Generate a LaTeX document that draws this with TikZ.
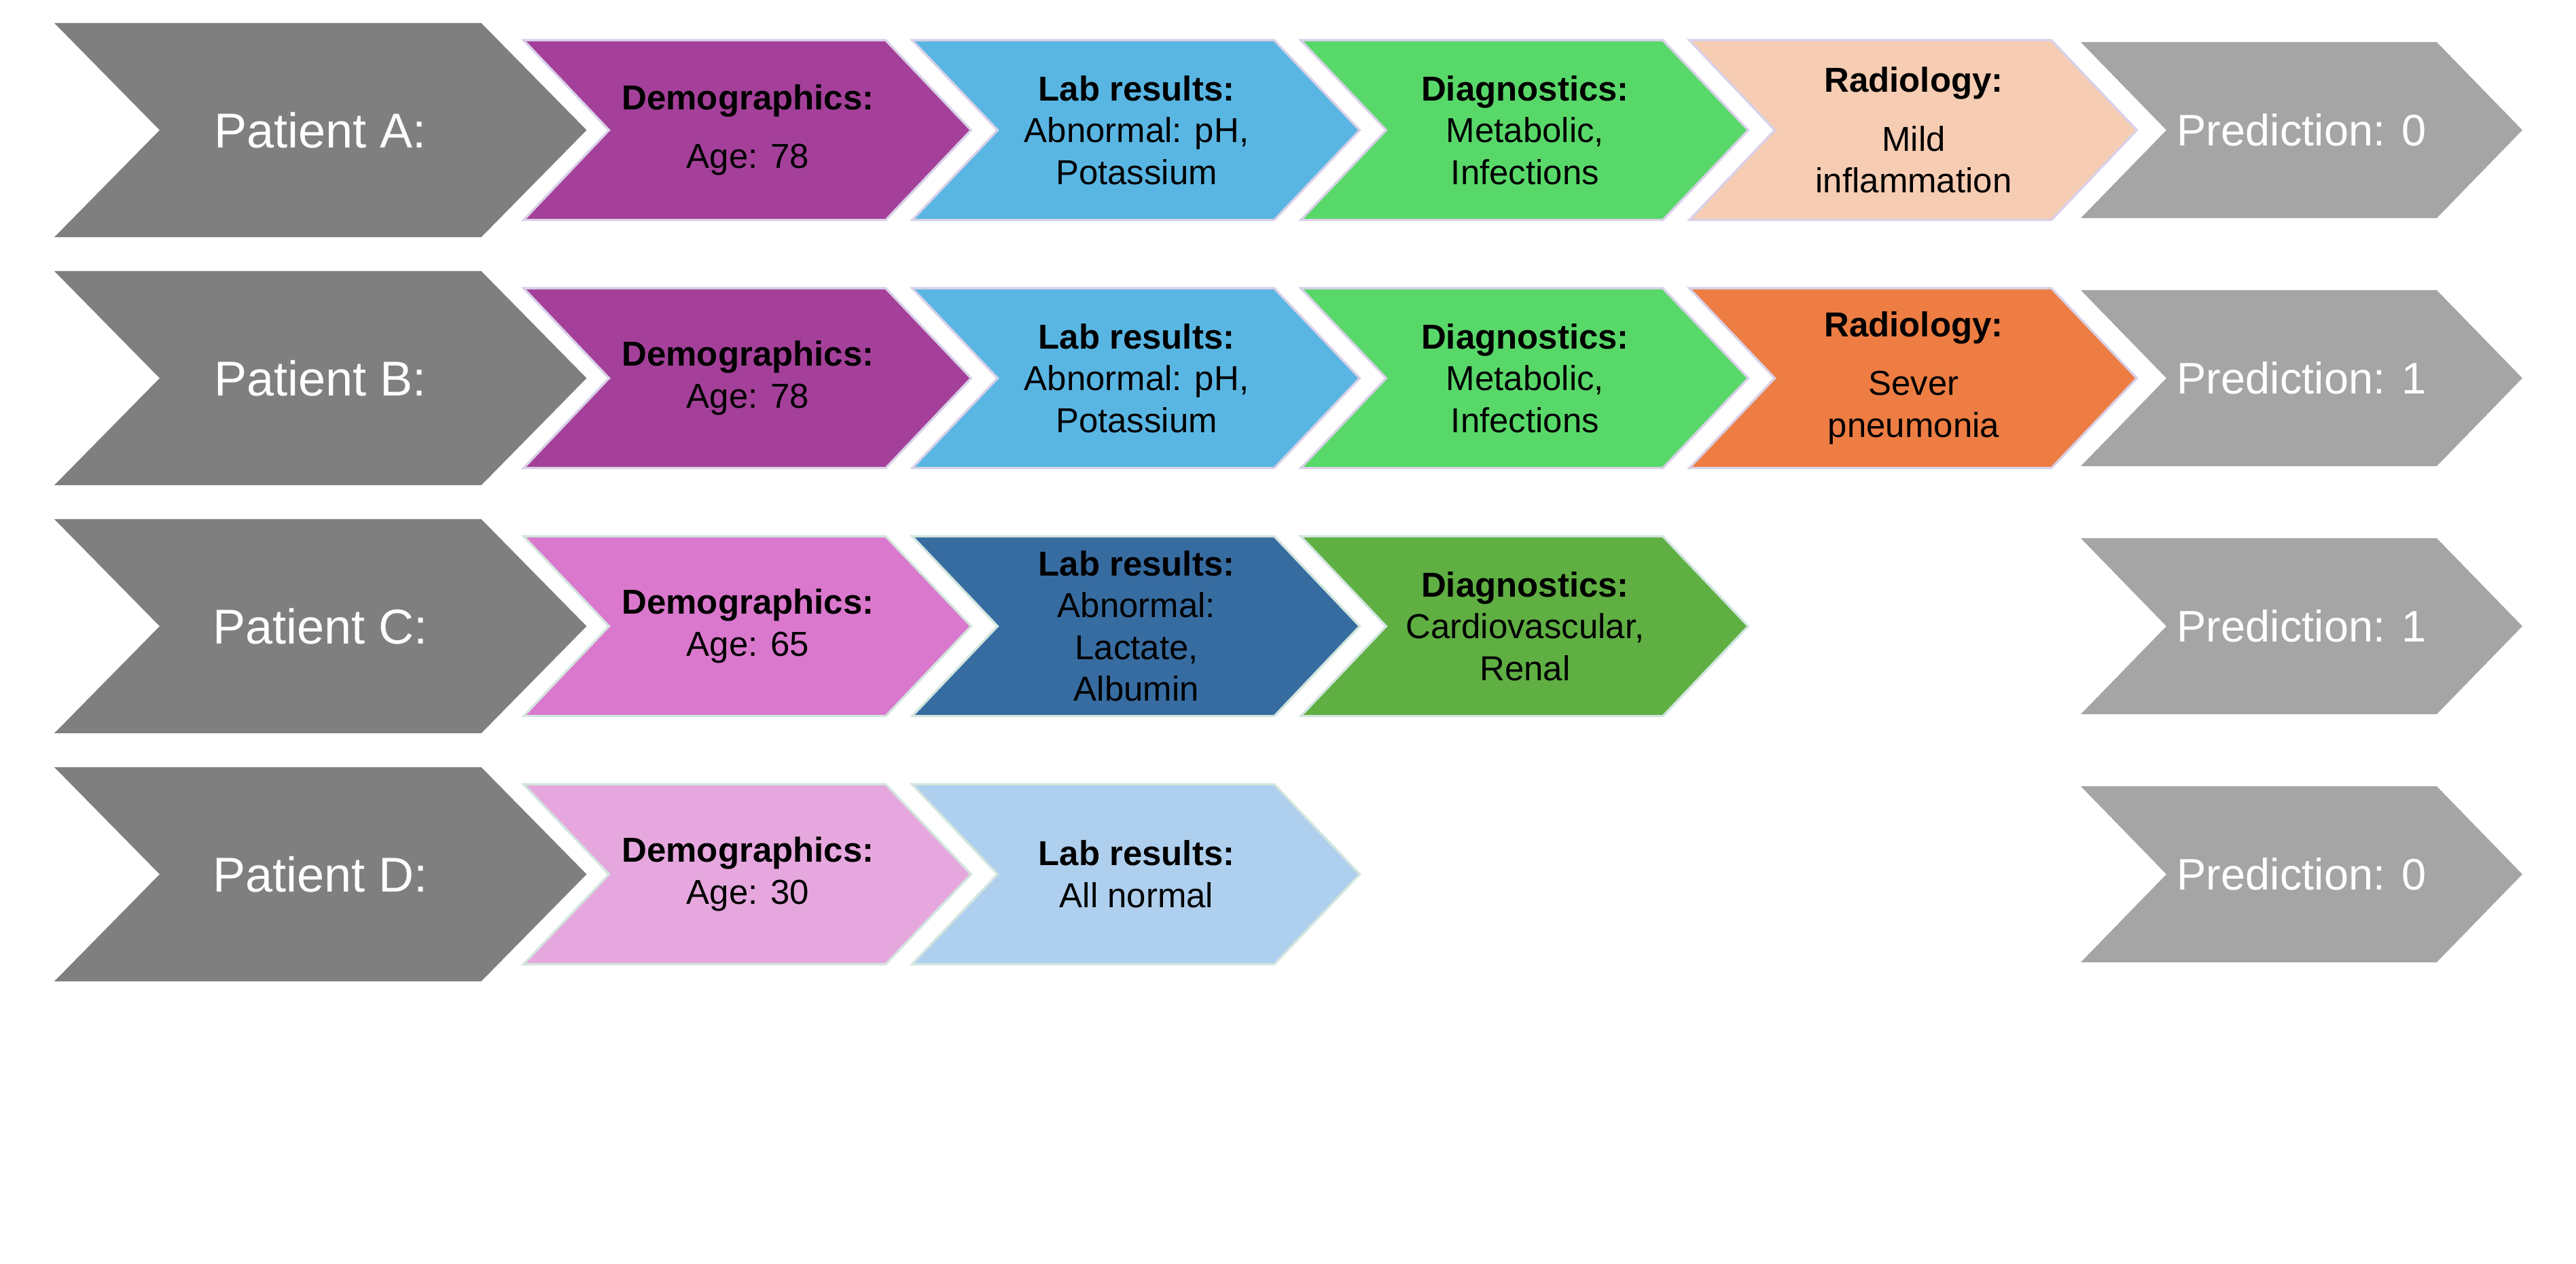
\documentclass[tikz,border=0pt]{standalone}
\usepackage{fontspec}
\setmainfont{Liberation Sans}

\definecolor{patgray}{HTML}{7F7F7F}
\definecolor{predgray}{HTML}{A5A5A5}
\definecolor{rimlav}{HTML}{D9D1E8}
\definecolor{rimmint}{HTML}{D2E5DE}
\definecolor{demoAB}{HTML}{A5409A}
\definecolor{labAB}{HTML}{59B6E3}
\definecolor{diagAB}{HTML}{59D86A}
\definecolor{radA}{HTML}{F6CCB3}
\definecolor{radB}{HTML}{ED7D43}
\definecolor{demoC}{HTML}{DA78CD}
\definecolor{labC}{HTML}{376CA1}
\definecolor{diagC}{HTML}{5FAF43}
\definecolor{demoD}{HTML}{E6A7DE}
\definecolor{labD}{HTML}{AECFEE}

% #1 style, #2 name, #3 left, #4 mid y, #5 width, #6 half height, #7 point depth
\newcommand{\chevron}[7]{%
	\path[#1] (#3,{#4+#6}) -- ({#3+#5-#7},{#4+#6}) -- ({#3+#5},#4)
		-- ({#3+#5-#7},{#4-#6}) -- (#3,{#4-#6}) -- ({#3+#7},#4) -- cycle;
	\coordinate (#2) at ({#3+#5/2},#4);
}

\begin{document}
\begin{tikzpicture}[
	patbox/.style={fill=patgray},
	predbox/.style={fill=predgray},
	stagebox/.style={fill=#1, preaction={draw=rimlav, line width=0.07cm}},
	stageboxc/.style={fill=#1, preaction={draw=rimmint, line width=0.07cm}},
	bigtxt/.style={text=white, inner sep=0pt, font=\fontsize{20.5}{24}\selectfont},
	predtxt/.style={text=white, inner sep=0pt, font=\fontsize{18.5}{22}\selectfont},
	stagetxt/.style={align=center, inner sep=0pt, font=\fontsize{14.5}{17.5}\selectfont}
]
	\useasboundingbox (0,0) rectangle (37.92,-18.60);

	% patient and prediction arrows
	\foreach \p/\v/\y in {A/0/-1.915, B/1/-5.565, C/1/-9.215, D/0/-12.865} {
		\chevron{patbox}{pat\p}{0.80}{\y}{7.835}{1.575}{1.55}
		\node[bigtxt] (patlbl\p) at (pat\p) {Patient \p:};
		\chevron{predbox}{pred\p}{30.63}{\y}{6.50}{1.295}{1.26}
		\node[predtxt] (predlbl\p) at (pred\p) {Prediction: \v};
	}

	% patient A
	\chevron{stagebox=demoAB}{demA}{7.75}{-1.915}{6.52}{1.305}{1.24}
	\node[stagetxt] (demAtxt) at (demA) {\textbf{Demographics:}\\[7pt]Age: 78};
	\chevron{stagebox=labAB}{labA}{13.47}{-1.915}{6.52}{1.305}{1.24}
	\node[stagetxt] (labAtxt) at (labA) {\textbf{Lab results:}\\Abnormal: pH,\\Potassium};
	\chevron{stagebox=diagAB}{diaA}{19.19}{-1.915}{6.52}{1.305}{1.24}
	\node[stagetxt] (diaAtxt) at (diaA) {\textbf{Diagnostics:}\\Metabolic,\\Infections};
	\chevron{stagebox=radA}{radA}{24.91}{-1.915}{6.52}{1.305}{1.24}
	\node[stagetxt] (radAtxt) at (radA) {\textbf{Radiology:}\\[7pt]Mild\\inflammation};

	% patient B
	\chevron{stagebox=demoAB}{demB}{7.75}{-5.565}{6.52}{1.305}{1.24}
	\node[stagetxt] (demBtxt) at (demB) {\textbf{Demographics:}\\Age: 78};
	\chevron{stagebox=labAB}{labB}{13.47}{-5.565}{6.52}{1.305}{1.24}
	\node[stagetxt] (labBtxt) at (labB) {\textbf{Lab results:}\\Abnormal: pH,\\Potassium};
	\chevron{stagebox=diagAB}{diaB}{19.19}{-5.565}{6.52}{1.305}{1.24}
	\node[stagetxt] (diaBtxt) at (diaB) {\textbf{Diagnostics:}\\Metabolic,\\Infections};
	\chevron{stagebox=radB}{radB}{24.91}{-5.565}{6.52}{1.305}{1.24}
	\node[stagetxt] (radBtxt) at (radB) {\textbf{Radiology:}\\[7pt]Sever\\pneumonia};

	% patient C
	\chevron{stageboxc=demoC}{demC}{7.75}{-9.215}{6.52}{1.305}{1.24}
	\node[stagetxt] (demCtxt) at (demC) {\textbf{Demographics:}\\Age: 65};
	\chevron{stageboxc=labC}{labC}{13.47}{-9.215}{6.52}{1.305}{1.24}
	\node[stagetxt] (labCtxt) at (labC) {\textbf{Lab results:}\\Abnormal:\\Lactate,\\Albumin};
	\chevron{stageboxc=diagC}{diaC}{19.19}{-9.215}{6.52}{1.305}{1.24}
	\node[stagetxt] (diaCtxt) at (diaC) {\textbf{Diagnostics:}\\Cardiovascular,\\Renal};

	% patient D
	\chevron{stageboxc=demoD}{demD}{7.75}{-12.865}{6.52}{1.305}{1.24}
	\node[stagetxt] (demDtxt) at (demD) {\textbf{Demographics:}\\Age: 30};
	\chevron{stageboxc=labD}{labD}{13.47}{-12.865}{6.52}{1.305}{1.24}
	\node[stagetxt] (labDtxt) at (labD) {\textbf{Lab results:}\\All normal};
\end{tikzpicture}
\end{document}
